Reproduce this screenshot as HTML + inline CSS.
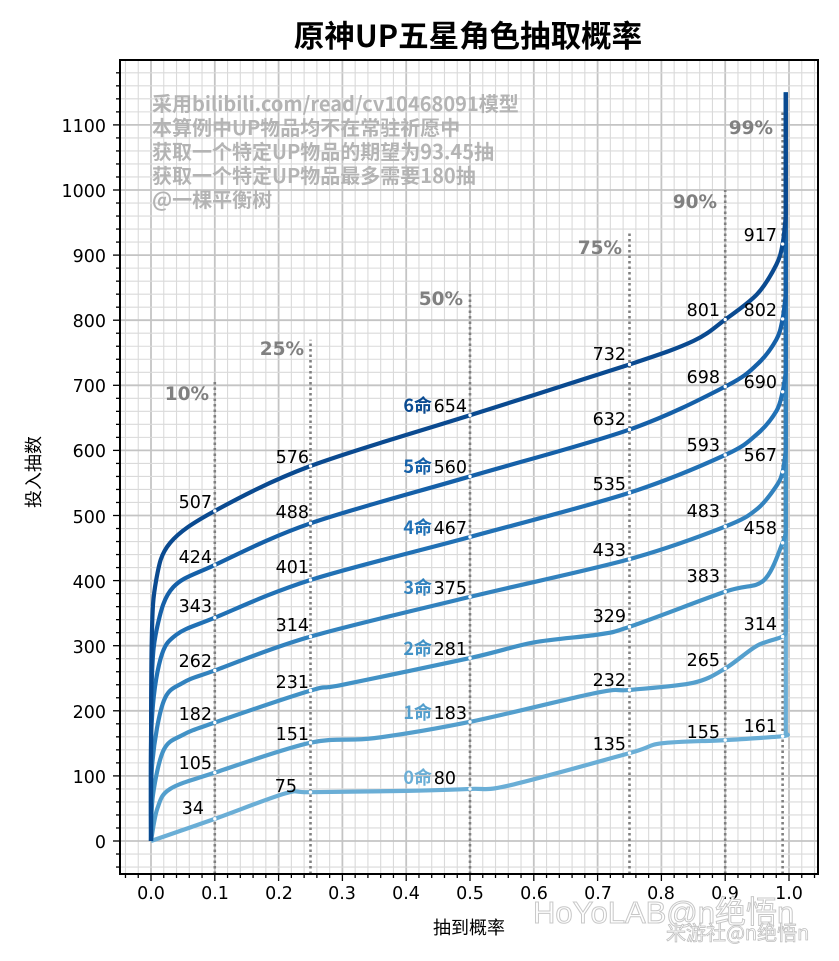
<!DOCTYPE html>
<html><head><meta charset="utf-8"><style>
body{margin:0;background:#fff;}
svg{display:block;font-family:"DejaVu Sans","Noto Sans CJK SC",sans-serif;}
.pct{fill:#808080;font-weight:bold;font-size:18.5px;text-anchor:end;font-family:"DejaVu Sans",sans-serif;}
.val{fill:#000;font-size:17.5px;text-anchor:end;font-family:"DejaVu Sans",sans-serif;}
.tk{font-size:17.5px;fill:#000;font-family:"DejaVu Sans",sans-serif;}
.wm{fill:#b4b4b4;font-weight:bold;font-size:20px;font-family:"Noto Sans CJK SC","DejaVu Sans",sans-serif;}
</style></head><body>
<svg id="s" width="839" height="961" viewBox="0 0 839 961" xmlns="http://www.w3.org/2000/svg">
<rect width="839" height="961" fill="#fff"/>
<g id="grid"></g>
<g id="dots"></g>
<g id="curves"></g>
<g id="marks"></g>
<rect x="120" y="60" width="698" height="814" fill="none" stroke="#000" stroke-width="2"/>
<g id="ticks"></g>
<text x="468" y="47" text-anchor="middle" font-size="30.5" font-weight="bold" font-family="Noto Sans CJK SC, sans-serif">原神UP五星角色抽取概率</text>
<text transform="translate(40,472) rotate(-90)" text-anchor="middle" font-size="18" font-family="Noto Sans CJK SC, sans-serif">投入抽数</text>
<text x="469" y="934" text-anchor="middle" font-size="18" font-family="Noto Sans CJK SC, sans-serif">抽到概率</text>
<g class="tk" text-anchor="end">
<text x="106" y="848">0</text><text x="106" y="783">100</text><text x="106" y="718">200</text><text x="106" y="653">300</text><text x="106" y="588">400</text><text x="106" y="523">500</text><text x="106" y="457">600</text><text x="106" y="392">700</text><text x="106" y="327">800</text><text x="106" y="262">900</text><text x="106" y="197">1000</text><text x="106" y="132">1100</text>
</g>
<g class="tk" text-anchor="middle">
<text x="151" y="899">0.0</text><text x="215" y="899">0.1</text><text x="279" y="899">0.2</text><text x="342" y="899">0.3</text><text x="406" y="899">0.4</text><text x="470" y="899">0.5</text><text x="534" y="899">0.6</text><text x="598" y="899">0.7</text><text x="661" y="899">0.8</text><text x="725" y="899">0.9</text><text x="789" y="899">1.0</text>
</g>
<g class="wm">
<text x="152" y="111">采用bilibili.com/read/cv10468091模型</text>
<text x="152" y="135">本算例中UP物品均不在常驻祈愿中</text>
<text x="152" y="159">获取一个特定UP物品的期望为93.45抽</text>
<text x="152" y="183">获取一个特定UP物品最多需要180抽</text>
<text x="152" y="207">@一棵平衡树</text>
</g>
<g class="pct">
<text x="209" y="400">10%</text><text x="304" y="355">25%</text><text x="463" y="305">50%</text><text x="622" y="254">75%</text><text x="717" y="208">90%</text><text x="773" y="134">99%</text>
</g>
<g class="val">
<text x="212" y="508">507</text><text x="212" y="563">424</text><text x="212" y="612">343</text><text x="212" y="667">262</text><text x="212" y="720">182</text><text x="212" y="769">105</text><text x="204" y="814">34</text>
<text x="309" y="463">576</text><text x="309" y="518">488</text><text x="309" y="573">401</text><text x="309" y="631">314</text><text x="309" y="688">231</text><text x="309" y="740">151</text><text x="297" y="792">75</text>
<text x="467" y="412">654</text><text x="467" y="473">560</text><text x="467" y="534">467</text><text x="467" y="594">375</text><text x="467" y="655">281</text><text x="467" y="719">183</text><text x="456" y="784">80</text>
<text x="626" y="360">732</text><text x="626" y="425">632</text><text x="626" y="490">535</text><text x="626" y="556">433</text><text x="626" y="622">329</text><text x="626" y="686">232</text><text x="626" y="750">135</text>
<text x="720" y="316">801</text><text x="720" y="383">698</text><text x="720" y="451">593</text><text x="720" y="517">483</text><text x="720" y="582">383</text><text x="720" y="666">265</text><text x="720" y="738">155</text>
<text x="777" y="241">917</text><text x="777" y="316">802</text><text x="777" y="388">690</text><text x="777" y="461">567</text><text x="777" y="534">458</text><text x="777" y="630">314</text><text x="777" y="732">161</text>
</g>
<g font-weight="bold" font-size="18" text-anchor="end" font-family="Noto Sans CJK SC, sans-serif">
<text x="432" y="412" fill="#0a4a90">6命</text><text x="432" y="473" fill="#1560a8">5命</text><text x="432" y="534" fill="#2171b5">4命</text><text x="432" y="594" fill="#3282be">3命</text><text x="432" y="655" fill="#4292c6">2命</text><text x="432" y="719" fill="#549fcd">1命</text><text x="432" y="784" fill="#6aaed6">0命</text>
</g>
<text x="533" y="923" font-size="31" fill="#fff" stroke="#c8c8c8" stroke-width="1" font-family="Liberation Sans, Noto Sans CJK SC, sans-serif">HoYoLAB@n绝悟n</text>
<text x="666" y="940" font-size="20" fill="#fff" stroke="#c0c0c0" stroke-width="0.8" font-family="Noto Sans CJK SC, sans-serif">米游社@n绝悟n</text>
</svg>
<script>
(function(){
var NS="http://www.w3.org/2000/svg";
function X(p){return 151+638*p;} function Y(v){return 841-0.651*v;}
function el(t,a,parent){var e=document.createElementNS(NS,t);for(var k in a)e.setAttribute(k,a[k]);document.getElementById(parent).appendChild(e);return e;}
for(var i=-2;i<=52;i++){var p=i*0.02;var x=X(p);if(x<121||x>817)continue;var maj=i%5==0;
 el('line',{x1:x,x2:x,y1:60,y2:874,stroke:maj?'#c4c4c4':'#dadada','stroke-width':maj?1.8:1.1},'grid');
 el('line',{x1:x,x2:x,y1:874,y2:maj?881:878,stroke:'#000','stroke-width':1.3},'ticks');}
for(var i=-2;i<=60;i++){var v=i*20;var y=Y(v);if(y<61||y>873)continue;var maj=i%5==0;
 el('line',{x1:120,x2:818,y1:y,y2:y,stroke:maj?'#c4c4c4':'#dadada','stroke-width':maj?1.8:1.1},'grid');
 el('line',{x1:120,x2:maj?113:116,y1:y,y2:y,stroke:'#000','stroke-width':1.3},'ticks');}
[[0.1,705],[0.25,770],[0.5,845],[0.75,935],[0.9,1000],[0.99,1120]].forEach(function(a){
 el('line',{x1:X(a[0]),x2:X(a[0]),y1:874,y2:Y(a[1]),stroke:'#808080','stroke-width':2.6,'stroke-dasharray':'2.5 3'},'dots');});
var C=['#6aaed6','#549fcd','#4292c6','#3282be','#2171b5','#1560a8','#0a4a90'];
var D=[
[[0,0],[0.1,34],[0.21,73],[0.25,75],[0.4,77],[0.5,80],[0.56,85],[0.75,135],[0.8,150],[0.9,155],[0.99,161],[0.995,165]],
[[0,0],[0.01,50],[0.03,80],[0.1,105],[0.25,151],[0.35,158],[0.5,183],[0.7,228],[0.75,232],[0.85,243],[0.9,265],[0.95,300],[0.99,314],[0.995,325]],
[[0,0],[0.003,70],[0.02,140],[0.05,163],[0.1,182],[0.25,231],[0.3,240],[0.5,281],[0.6,305],[0.7,317],[0.75,329],[0.9,383],[0.96,400],[0.99,458],[0.995,475]],
[[0,0],[0.002,120],[0.02,215],[0.05,243],[0.1,262],[0.25,314],[0.5,375],[0.75,433],[0.9,483],[0.95,510],[0.98,545],[0.99,567],[0.995,600]],
[[0,0],[0.001,180],[0.015,280],[0.04,317],[0.1,343],[0.25,401],[0.5,467],[0.75,535],[0.9,593],[0.95,625],[0.98,660],[0.99,690],[0.995,720]],
[[0,0],[0.001,240],[0.01,330],[0.035,390],[0.1,424],[0.25,488],[0.5,560],[0.75,632],[0.9,698],[0.95,732],[0.98,770],[0.99,802],[0.995,840]],
[[0,0],[0.001,300],[0.008,400],[0.03,458],[0.1,507],[0.25,576],[0.5,654],[0.75,732],[0.85,768],[0.9,801],[0.95,840],[0.98,885],[0.99,917],[0.995,960]]];
var marks=[0.1,0.25,0.5,0.75,0.9,0.99];
D.forEach(function(pts,k){var P=pts.map(function(q){return [X(q[0]),Y(q[1])];});
 var d='M'+P[0][0]+' '+P[0][1];
 for(var i=0;i<P.length-1;i++){var p0=P[Math.max(0,i-1)],p1=P[i],p2=P[i+1],p3=P[Math.min(P.length-1,i+2)];
  var t=0.16;d+=' C'+(p1[0]+(p2[0]-p0[0])*t)+' '+(p1[1]+(p2[1]-p0[1])*t)+' '+(p2[0]-(p3[0]-p1[0])*t)+' '+(p2[1]-(p3[1]-p1[1])*t)+' '+p2[0]+' '+p2[1];}
 d+=' L'+X(0.995)+' '+Y(1150);
 el('path',{d:d,fill:'none',stroke:C[k],'stroke-width':4.2,'stroke-linejoin':'round'},'curves');
 pts.forEach(function(q){if(marks.indexOf(q[0])>=0)el('circle',{cx:X(q[0]),cy:Y(q[1]),r:1.7,fill:'#fff'},'marks');});
});
})();
</script>
</body></html>
